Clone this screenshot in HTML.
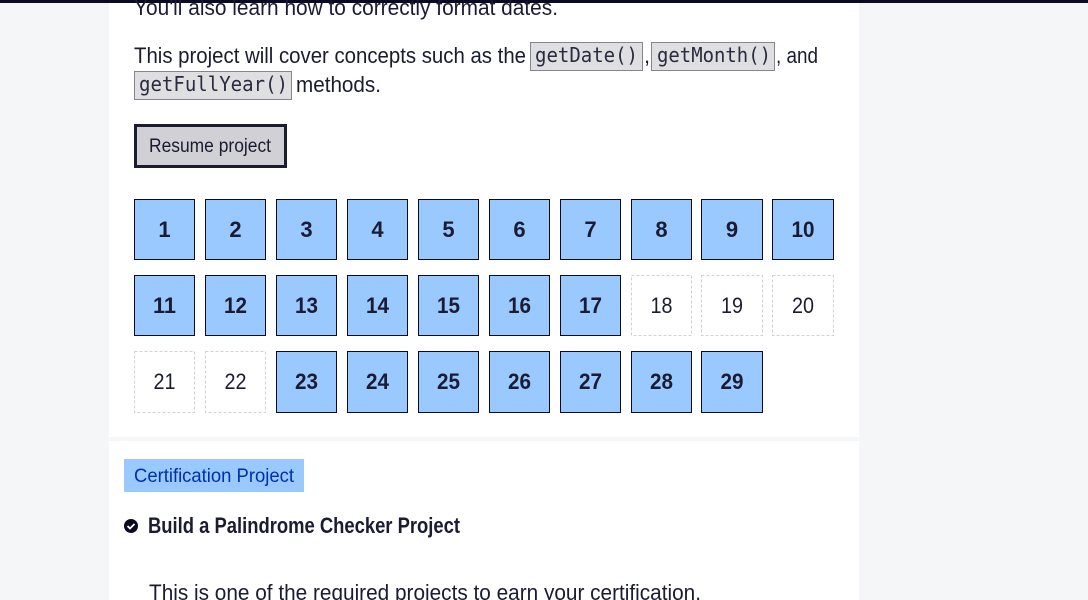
<!DOCTYPE html>
<html lang="en">
<head>
<meta charset="utf-8">
<title>Project steps</title>
<style>
html,body{margin:0;padding:0;width:1088px;height:600px;overflow:hidden;background:#f5f6f7}
svg{display:block}
text{font-family:"Liberation Sans",sans-serif;fill:#1b1b32}
.p{font-size:22px}
.c{font-family:"DejaVu Sans Mono","Liberation Mono",monospace;font-size:20px;fill:#2a2a40}
.n{font-size:22px;text-anchor:middle}
.b{font-weight:700}
.d{fill:#fff;stroke:#d0d0d5;stroke-dasharray:3 2}
.f{fill:#99c9ff;stroke:#0a0a23}
.k{fill:#dfdfe2;stroke:#858591}
</style>
</head>
<body>
<svg width="1088" height="600" viewBox="0 0 1088 600" xmlns="http://www.w3.org/2000/svg">
<rect width="1088" height="600" fill="#f5f6f7"/>
<rect x="109" y="0" width="750" height="600" fill="#fff"/>
<rect x="109" y="437" width="750" height="4" fill="#f5f6f7"/>
<rect x="0" y="0" width="1088" height="3" fill="#0a0a23"/>

<text class="p" x="134" y="15" textLength="424" lengthAdjust="spacingAndGlyphs">You'll also learn how to correctly format dates.</text>
<text class="p" x="134" y="63" textLength="392" lengthAdjust="spacingAndGlyphs">This project will cover concepts such as the</text>
<rect class="k" x="530.5" y="42.5" width="112" height="28"/>
<text class="c" x="535" y="62" textLength="103" lengthAdjust="spacingAndGlyphs">getDate()</text>
<text class="p" x="644" y="63">,</text>
<rect class="k" x="651.5" y="42.5" width="123" height="28"/>
<text class="c" x="657" y="62" textLength="114" lengthAdjust="spacingAndGlyphs">getMonth()</text>
<text class="p" x="776" y="63" textLength="42" lengthAdjust="spacingAndGlyphs">, and</text>
<rect class="k" x="134.5" y="71.5" width="157" height="28"/>
<text class="c" x="139" y="91" textLength="149" lengthAdjust="spacingAndGlyphs">getFullYear()</text>
<text class="p" x="296" y="92" textLength="85" lengthAdjust="spacingAndGlyphs">methods.</text>

<rect x="135.5" y="125.5" width="150" height="41" fill="#d0d0d5" stroke="#1b1b32" stroke-width="3"/>
<text x="149" y="152" font-size="19.5" textLength="122" lengthAdjust="spacingAndGlyphs">Resume project</text>

<rect class="f" x="134.5" y="199.5" width="60" height="60"/><text class="n b" x="164.5" y="237">1</text>
<rect class="f" x="205.5" y="199.5" width="60" height="60"/><text class="n b" x="235.5" y="237">2</text>
<rect class="f" x="276.5" y="199.5" width="60" height="60"/><text class="n b" x="306.5" y="237">3</text>
<rect class="f" x="347.5" y="199.5" width="60" height="60"/><text class="n b" x="377.5" y="237">4</text>
<rect class="f" x="418.5" y="199.5" width="60" height="60"/><text class="n b" x="448.5" y="237">5</text>
<rect class="f" x="489.5" y="199.5" width="60" height="60"/><text class="n b" x="519.5" y="237">6</text>
<rect class="f" x="560.5" y="199.5" width="60" height="60"/><text class="n b" x="590.5" y="237">7</text>
<rect class="f" x="631.5" y="199.5" width="60" height="60"/><text class="n b" x="661.5" y="237">8</text>
<rect class="f" x="701.5" y="199.5" width="61" height="60"/><text class="n b" x="732" y="237">9</text>
<rect class="f" x="772.5" y="199.5" width="61" height="60"/><text class="n b" x="803" y="237" textLength="23" lengthAdjust="spacingAndGlyphs">10</text>

<rect class="f" x="134.5" y="275.5" width="60" height="60"/><text class="n b" x="164.5" y="313" textLength="23" lengthAdjust="spacingAndGlyphs">11</text>
<rect class="f" x="205.5" y="275.5" width="60" height="60"/><text class="n b" x="235.5" y="313" textLength="23" lengthAdjust="spacingAndGlyphs">12</text>
<rect class="f" x="276.5" y="275.5" width="60" height="60"/><text class="n b" x="306.5" y="313" textLength="23" lengthAdjust="spacingAndGlyphs">13</text>
<rect class="f" x="347.5" y="275.5" width="60" height="60"/><text class="n b" x="377.5" y="313" textLength="23" lengthAdjust="spacingAndGlyphs">14</text>
<rect class="f" x="418.5" y="275.5" width="60" height="60"/><text class="n b" x="448.5" y="313" textLength="23" lengthAdjust="spacingAndGlyphs">15</text>
<rect class="f" x="489.5" y="275.5" width="60" height="60"/><text class="n b" x="519.5" y="313" textLength="23" lengthAdjust="spacingAndGlyphs">16</text>
<rect class="f" x="560.5" y="275.5" width="60" height="60"/><text class="n b" x="590.5" y="313" textLength="23" lengthAdjust="spacingAndGlyphs">17</text>
<rect class="d" x="631.5" y="275.5" width="60" height="60"/><text class="n" x="661.5" y="313" textLength="22" lengthAdjust="spacingAndGlyphs">18</text>
<rect class="d" x="701.5" y="275.5" width="61" height="60"/><text class="n" x="732" y="313" textLength="22" lengthAdjust="spacingAndGlyphs">19</text>
<rect class="d" x="772.5" y="275.5" width="61" height="60"/><text class="n" x="803" y="313" textLength="22" lengthAdjust="spacingAndGlyphs">20</text>

<rect class="d" x="134.5" y="351.5" width="60" height="61"/><text class="n" x="164.5" y="389" textLength="22" lengthAdjust="spacingAndGlyphs">21</text>
<rect class="d" x="205.5" y="351.5" width="60" height="61"/><text class="n" x="235.5" y="389" textLength="22" lengthAdjust="spacingAndGlyphs">22</text>
<rect class="f" x="276.5" y="351.5" width="60" height="61"/><text class="n b" x="306.5" y="389" textLength="23" lengthAdjust="spacingAndGlyphs">23</text>
<rect class="f" x="347.5" y="351.5" width="60" height="61"/><text class="n b" x="377.5" y="389" textLength="23" lengthAdjust="spacingAndGlyphs">24</text>
<rect class="f" x="418.5" y="351.5" width="60" height="61"/><text class="n b" x="448.5" y="389" textLength="23" lengthAdjust="spacingAndGlyphs">25</text>
<rect class="f" x="489.5" y="351.5" width="60" height="61"/><text class="n b" x="519.5" y="389" textLength="23" lengthAdjust="spacingAndGlyphs">26</text>
<rect class="f" x="560.5" y="351.5" width="60" height="61"/><text class="n b" x="590.5" y="389" textLength="23" lengthAdjust="spacingAndGlyphs">27</text>
<rect class="f" x="631.5" y="351.5" width="60" height="61"/><text class="n b" x="661.5" y="389" textLength="23" lengthAdjust="spacingAndGlyphs">28</text>
<rect class="f" x="701.5" y="351.5" width="61" height="61"/><text class="n b" x="732" y="389" textLength="23" lengthAdjust="spacingAndGlyphs">29</text>

<rect x="124" y="459" width="180" height="33" fill="#99c9ff"/>
<text x="134" y="482" font-size="19.5" style="fill:#002ead" textLength="160" lengthAdjust="spacingAndGlyphs">Certification Project</text>

<circle cx="131" cy="526" r="7" fill="#0a0a23"/>
<path d="M127.5 526l2.5 2.5 4.5-4.5" fill="none" stroke="#fff" stroke-width="1.8"/>
<text x="148" y="533" font-size="22" font-weight="700" textLength="312" lengthAdjust="spacingAndGlyphs">Build a Palindrome Checker Project</text>

<text class="p" x="149" y="600" textLength="552" lengthAdjust="spacingAndGlyphs">This is one of the required projects to earn your certification.</text>
</svg>
</body>
</html>
